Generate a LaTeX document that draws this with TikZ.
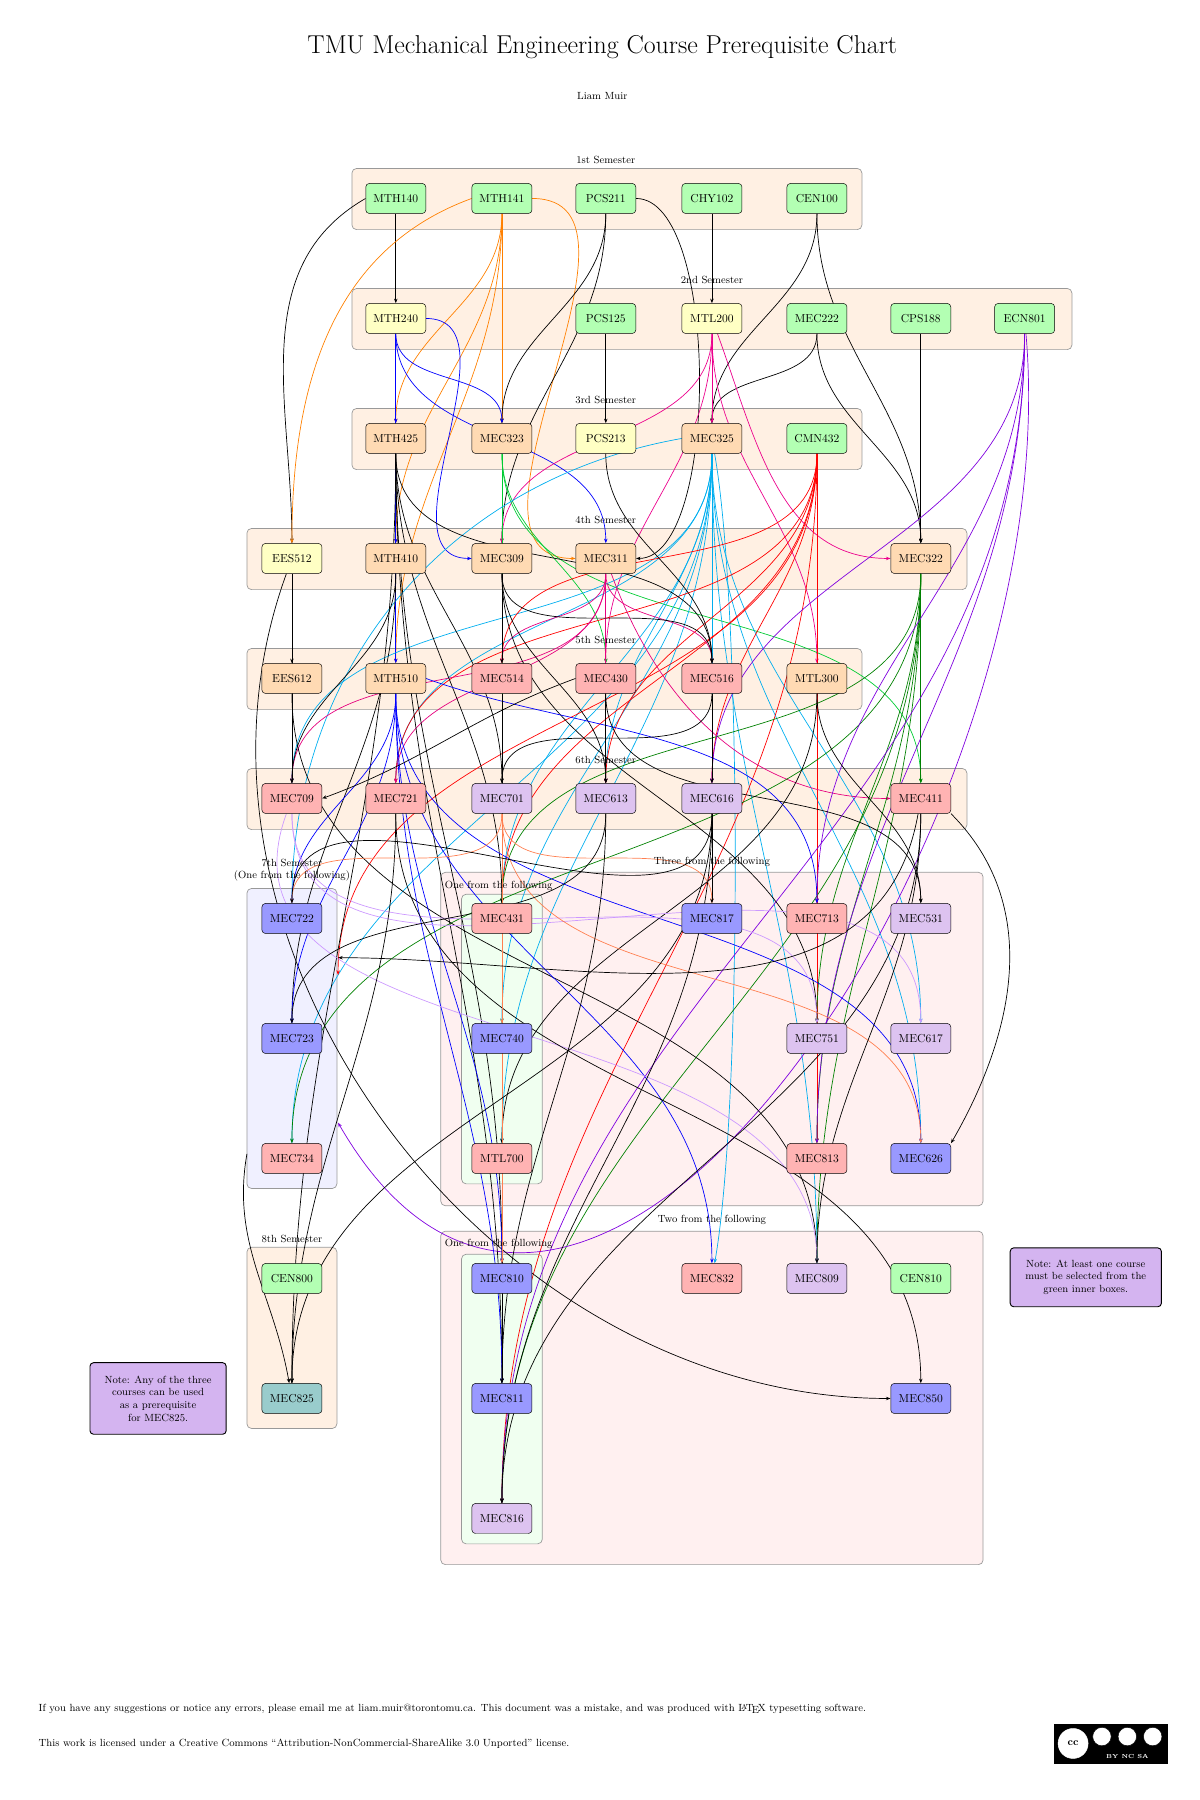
\documentclass[tikz,border=0pt]{standalone}
\usetikzlibrary{arrows.meta,positioning}
\pgfdeclarelayer{grp}\pgfdeclarelayer{bg}\pgfsetlayers{grp,bg,main}
\definecolor{cgreen}{HTML}{B3FFB3}
\definecolor{cyel}{HTML}{FFFFC4}
\definecolor{corg}{HTML}{FFDAB3}
\definecolor{cred}{HTML}{FFB3B3}
\definecolor{clil}{HTML}{DDC3F0}
\definecolor{cblu}{HTML}{9999FF}
\definecolor{cteal}{HTML}{99CCCC}
\definecolor{gsem}{HTML}{FFF0E3}
\definecolor{g7}{HTML}{F0F0FF}
\definecolor{gbig}{HTML}{FFF0F0}
\definecolor{ginn}{HTML}{F0FFF0}
\definecolor{eorange}{HTML}{FF8000}
\definecolor{egreen}{HTML}{00CC33}
\definecolor{ecyan}{HTML}{00AEEF}
\definecolor{epink}{HTML}{E6007E}
\definecolor{edgreen}{HTML}{008000}
\definecolor{epurple}{HTML}{7F00DF}
\definecolor{ecoral}{HTML}{FF7F50}
\definecolor{elilac}{HTML}{CC99FF}
\definecolor{notec}{HTML}{D4B4F0}
\begin{document}
\begin{tikzpicture}[x=1pt,y=-1pt,
  c/.style={draw=black,rounded corners=3pt,minimum width=52pt,minimum height=26pt,inner sep=1pt,font=\normalsize},
  grp/.style={draw=gray!80,rounded corners=4pt,line width=0.6pt},
  lab/.style={font=\small},
  e/.style={-{Stealth[length=4pt,width=3pt]},line width=0.6pt},
  d/.style={out=-90,in=90}]
\useasboundingbox (0,0) rectangle (1040,1560);
\node[scale=1.08] (title) at (522,41) {\huge TMU Mechanical Engineering Course Prerequisite Chart};
\node[font=\small] (author) at (522,83) {Liam Muir};
\begin{pgfonlayer}{grp}
\draw[grp,fill=gsem] (305,146) rectangle (747,199);
\draw[grp,fill=gsem] (305,250) rectangle (929,303);
\draw[grp,fill=gsem] (305,354) rectangle (747,407);
\draw[grp,fill=gsem] (214,458) rectangle (838,511);
\draw[grp,fill=gsem] (214,562) rectangle (747,615);
\draw[grp,fill=gsem] (214,666) rectangle (838,719);
\draw[grp,fill=g7] (214,770) rectangle (292,1030);
\draw[grp,fill=gbig] (382,756) rectangle (852,1045);
\draw[grp,fill=ginn] (400,775) rectangle (470,1026);
\draw[grp,fill=gsem] (214,1081) rectangle (292,1238);
\draw[grp,fill=gbig] (382,1067) rectangle (852,1356);
\draw[grp,fill=ginn] (400,1087) rectangle (470,1338);
\end{pgfonlayer}
\node[lab] (l1) at (525,139) {1st Semester};
\node[lab] (l2) at (617,243) {2nd Semester};
\node[lab] (l3) at (525,347) {3rd Semester};
\node[lab] (l4) at (525,451) {4th Semester};
\node[lab] (l5) at (525,555) {5th Semester};
\node[lab] (l6) at (525,659) {6th Semester};
\node[lab,align=center] (l7) at (253,754) {7th Semester\\(One from the following)};
\node[lab] (lb1) at (617,747) {Three from the following};
\node[lab,anchor=west] (li1) at (382,768) {One from the following};
\node[lab] (l8) at (253,1074) {8th Semester};
\node[lab] (lb2) at (617,1057) {Two from the following};
\node[lab,anchor=west] (li2) at (382,1078) {One from the following};
\coordinate (G7a) at (293,830);
\coordinate (G7b) at (293,845);
\coordinate (G7c) at (293,973);
\coordinate (G7d) at (214,1000);
\foreach \n/\x/\y/\f in {MTH140/343/172/cgreen,MTH141/435/172/cgreen,PCS211/525/172/cgreen,CHY102/617/172/cgreen,CEN100/708/172/cgreen,
 MTH240/343/276/cyel,PCS125/525/276/cgreen,MTL200/617/276/cyel,MEC222/708/276/cgreen,CPS188/798/276/cgreen,ECN801/888/276/cgreen,
 MTH425/343/380/corg,MEC323/435/380/corg,PCS213/525/380/cyel,MEC325/617/380/corg,CMN432/708/380/cgreen,
 EES512/253/484/cyel,MTH410/343/484/corg,MEC309/435/484/corg,MEC311/525/484/corg,MEC322/798/484/corg,
 EES612/253/588/corg,MTH510/343/588/corg,MEC514/435/588/cred,MEC430/525/588/cred,MEC516/617/588/cred,MTL300/708/588/corg,
 MEC709/253/692/cred,MEC721/343/692/cred,MEC701/435/692/clil,MEC613/525/692/clil,MEC616/617/692/clil,MEC411/798/692/cred,
 MEC722/253/796/cblu,MEC431/435/796/cred,MEC817/617/796/cblu,MEC713/708/796/cred,MEC531/798/796/clil,
 MEC723/253/900/cblu,MEC740/435/900/cblu,MEC751/708/900/clil,MEC617/798/900/clil,
 MEC734/253/1004/cred,MTL700/435/1004/cred,MEC813/708/1004/cred,MEC626/798/1004/cblu,
 CEN800/253/1108/cgreen,MEC810/435/1108/cblu,MEC832/617/1108/cred,MEC809/708/1108/clil,CEN810/798/1108/cgreen,
 MEC825/253/1212/cteal,MEC811/435/1212/cblu,MEC850/798/1212/cblu,
 MEC816/435/1316/clil}
 \node[c,fill=\f] (\n) at (\x,\y) {\n};
\node[draw,rounded corners=3pt,fill=notec,line width=0.8pt,align=center,font=\small,minimum width=131pt,minimum height=51pt] (note1) at (941,1107) {Note: At least one course\\must be selected from the\\green inner boxes.};
\node[draw,rounded corners=3pt,fill=notec,line width=0.8pt,align=center,font=\small,minimum width=118pt,minimum height=62pt] (note2) at (137,1212) {Note: Any of the three\\courses can be used\\as a prerequisite\\for MEC825.};
\begin{pgfonlayer}{bg}
\foreach \a/\b in {MTH140/MTH240,CHY102/MTL200,PCS125/PCS213,CPS188/MEC322}
  \draw[e] (\a) -- (\b);
\draw[e] (MTH140.west) to[out=210,in=90] (EES512.north);
\foreach \b in {MTH425,MEC323,MTH410,MTH510}
  \draw[e,eorange] (MTH141) to[d] (\b);
\draw[e,eorange] (MTH141.west) to[out=200,in=90] (EES512.north);
\draw[e,eorange] (MTH141.east) to[out=0,in=180] (MEC311.west);
\draw[e] (PCS211) to[d] (MEC323);
\draw[e] (PCS211) to[d] (MEC309);
\draw[e] (PCS211.east) to[out=0,in=0,looseness=0.6] (MEC311.east);
\draw[e] (CEN100) to[d] (MEC325);
\draw[e] (CEN100) to[d] (MEC322);
\draw[e] (MEC222) to[d] (MEC325);
\draw[e] (MEC222) to[d] (MEC322);
\foreach \b in {MTH425,MEC323,MTH410,MTH510,MEC311}
  \draw[e,blue] (MTH240) to[d] (\b);
\draw[e,blue] (MTH240.east) to[out=0,in=180] (MEC309.west);
\foreach \b in {MEC325,MEC309,MTL300,MEC430}
  \draw[e,magenta] (MTL200) to[d] (\b);
\draw[e,magenta] (MTL200) to[out=-70,in=180] (MEC322.west);
\foreach \b in {MEC430,MEC740,MEC411}
  \draw[e,egreen] (MEC323) to[d] (\b);
\draw[e,ecyan] (MEC325.west) to[out=190,in=90] (MEC722.north);
\foreach \b in {MEC709,MEC721,MEC613,MEC616,MEC431,MEC740,MTL700,MEC617,MEC626,MEC809,MEC734}
  \draw[e,ecyan] (MEC325) to[d] (\b);
\draw[e,ecyan] (MEC325) to[out=-80,in=80,looseness=0.5] (MEC832);
\foreach \b in {MEC514,MEC721,MEC613,MEC616,MEC431,MEC713,MEC813,MEC816}
  \draw[e,red] (CMN432) to[d] (\b);
\draw[e,red] (CMN432) to[d] (G7b);
\foreach \b in {MEC514,MEC516,MEC709,MEC721,MEC613}
  \draw[e,epink] (MEC311) to[d] (\b);
\draw[e,epink] (MEC311) to[out=-70,in=180] (MEC411.west);
\foreach \b in {MEC411,MEC431,MEC734,MEC751,MEC813,MEC809,MEC816}
  \draw[e,edgreen] (MEC322) to[d] (\b);
\foreach \b in {MEC616,MEC713,MEC813,MEC816}
  \draw[e,epurple] (ECN801) to[d] (\b);
\draw[e,epurple] (ECN801) to[out=-85,in=-60,looseness=1.2] (G7c);
\foreach \b in {MEC516,MEC701,MEC431,MEC810,MEC811,MEC825}
  \draw[e] (MTH425) to[d] (\b);
\draw[e] (MTH410) to[d] (MEC709);
\draw[e] (MTH410) to[d] (MEC723);
\draw[e] (EES512) -- (EES612);
\draw[e] (EES512) to[d] (MEC709);
\draw[e] (EES512) to[out=-110,in=180] (MEC850.west);
\draw[e] (EES612) to[d] (MEC809);
\foreach \b in {MEC514,MEC516,MEC613,MEC751}
  \draw[e] (MEC309) to[d] (\b);
\draw[e] (PCS213) to[d] (MEC516);
\foreach \b in {MEC722,MEC723,MEC810,MEC811,MEC626,MEC832}
  \draw[e,blue] (MTH510) to[d] (\b);
\draw[e,blue] (MTH510.east) to[out=-20,in=90] (MEC713.north);
\draw[e] (MEC514) to[d] (MEC811);
\draw[e] (MEC430) -- (MEC613);
\draw[e] (MEC430) to[d] (MEC531);
\draw[e] (MEC430.west) to[out=200,in=20] (MEC709.east);
\draw[e] (MEC516) -- (MEC616);
\draw[e] (MEC516) to[d] (MEC701);
\draw[e] (MTL300) to[d] (MTL700);
\draw[e] (MTL300) to[d] (MEC531);
\draw[e,elilac] (MEC709) to[d] (MEC751);
\draw[e,elilac] (MEC709) to[out=-110,in=90] (MEC809);
\draw[e,elilac] (MEC709) to[d] (MEC617);
\draw[e] (MEC721) to[d] (MEC825);
\draw[e] (MEC721) to[d] (MEC850);
\foreach \b in {MEC722,MEC817,MEC626,MEC810,MEC740}
  \draw[e,ecoral] (MEC701) to[d] (\b);
\draw[e] (MEC613) to[d] (MEC811);
\draw[e] (MEC613) to[d] (MEC723);
\draw[e] (MEC616) -- (MEC817);
\draw[e] (MEC616) to[d] (MEC722);
\draw[e] (MEC616) to[d] (MEC816);
\draw[e] (MEC616) to[d] (MEC825);
\draw[e] (MEC411) to[d] (MEC809);
\draw[e] (MEC411.south east) to[out=-45,in=60] (MEC626.north east);
\draw[e] (MEC411) to[d] (MEC816);
\draw[e] (MEC411) to[out=-100,in=0] (G7a);
\draw[e] (G7d) to[out=-100,in=100] (MEC825);
\end{pgfonlayer}
\node[anchor=west,font=\small] (f1) at (30,1481) {If you have any suggestions or notice any errors, please email me at liam.muir@torontomu.ca. This document was a mistake, and was produced with \LaTeX\ typesetting software.};
\node[anchor=west,font=\small] (f2) at (30,1511) {This work is licensed under a Creative Commons ``Attribution-NonCommercial-ShareAlike 3.0 Unported'' license.};
\node[draw=black,fill=black,minimum width=98pt,minimum height=34pt,inner sep=0] (cc) at (963,1511) {};
\node[circle,draw=white,fill=white,minimum size=26pt,inner sep=0,font=\bfseries\small] (ci1) at (930,1511) {cc};
\foreach \x in {955,977,999}
  \node[circle,draw=black,fill=white,minimum size=16pt,inner sep=0] (ci\x) at (\x,1505) {};
\node[font=\tiny\bfseries,text=white] (cbt) at (977,1522) {BY\,\,\,NC\,\,\,SA};
\end{tikzpicture}
\end{document}
